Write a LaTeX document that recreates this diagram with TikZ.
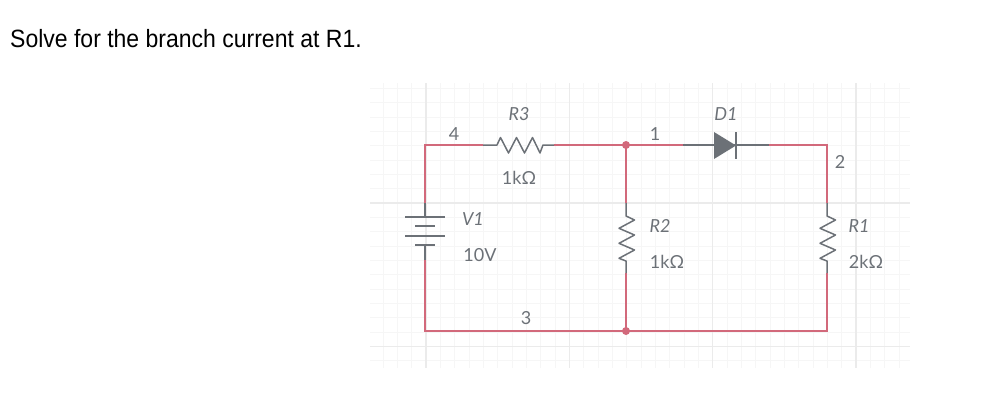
\documentclass[tikz,border=0pt]{standalone}
\usepackage{fontspec}
\setmainfont{Lato}
\newfontfamily\titlefont{Liberation Sans}
\definecolor{wirec}{HTML}{D2697B}
\definecolor{partc}{HTML}{6C7177}
\definecolor{gridmajor}{HTML}{EBEBEB}
\definecolor{gridminor}{HTML}{F6F6F6}
\tikzset{
  wire/.style={draw=wirec,line width=1.5pt},
  part/.style={draw=partc,line width=1.5pt},
  lbl/.style={text=partc,font=\fontsize{18}{18}\selectfont,inner sep=0pt,anchor=center},
  ilbl/.style={lbl,font=\fontsize{18}{18}\selectfont\itshape},
  dot/.style={circle,fill=wirec,inner sep=0pt,minimum size=8pt}
}
\begin{document}
\begin{tikzpicture}[x=1pt,y=-1pt]
\useasboundingbox (0,0) rectangle (998,416);
% grid
\foreach \k in {-3,...,33}{
  \pgfmathsetmacro{\gx}{426+14.33*\k}
  \draw[gridminor,line width=0.8pt] (\gx,83) -- (\gx,368);
}
\foreach \k in {-8,...,11}{
  \pgfmathsetmacro{\gy}{203+14.33*\k}
  \draw[gridminor,line width=0.8pt] (370,\gy) -- (910,\gy);
}
\foreach \gx in {426,569.3,712.6,856}{
  \draw[gridmajor,line width=1.2pt] (\gx,83) -- (\gx,368);
}
\foreach \gy in {203,346.3}{
  \draw[gridmajor,line width=1.2pt] (370,\gy) -- (910,\gy);
}
% named points
\coordinate (tl) at (425,145);
\coordinate (tr) at (827,145);
\coordinate (bl) at (425,331);
\coordinate (br) at (827,331);
\node[dot] (jt) at (626,145) {};
\node[dot] (jb) at (626,331) {};
\coordinate (r3a) at (483,145);
\coordinate (r3b) at (554,145);
\coordinate (d1a) at (683,145);
\coordinate (d1b) at (769,145);
\coordinate (v1a) at (425,203);
\coordinate (v1b) at (425,260);
\coordinate (r2a) at (626,203);
\coordinate (r2b) at (626,273);
\coordinate (r1a) at (827,203);
\coordinate (r1b) at (827,273);
% wires
\draw[wire,line join=miter] (v1a) -- (tl) -- (r3a);
\draw[wire] (r3b) -- (jt.center) -- (d1a);
\draw[wire,line join=miter] (d1b) -- (tr) -- (r1a);
\draw[wire] (jt.center) -- (r2a);
\draw[wire] (r2b) -- (jb.center);
\draw[wire,line join=miter] (v1b) -- (bl) -- (br) -- (r1b);
% R3
\draw[part,line join=round] (r3a) -- (497,145) -- (500.5,137.5) -- (508.5,153) -- (516.5,137.5) -- (524.5,153) -- (532.5,137.5) -- (540,153) -- (543,145) -- (r3b);
% R2
\draw[part,line join=round] (r2a) -- (626,216) -- (634.5,220) -- (619,228.3) -- (634.5,235) -- (619,243.3) -- (634.5,250) -- (619,258.3) -- (626,261) -- (r2b);
% R1
\draw[part,line join=round] (r1a) -- (827,216) -- (835.5,220) -- (820,228.3) -- (835.5,235) -- (820,243.3) -- (835.5,250) -- (820,258.3) -- (827,261) -- (r1b);
% D1
\draw[part] (d1a) -- (d1b);
\fill[partc] (714,132) -- (736,145.5) -- (714,159) -- cycle;
\draw[part] (736,132) -- (736,159);
% V1
\draw[part] (v1a) -- (425,217);
\draw[part] (405,217) -- (445,217);
\draw[part] (415,226) -- (435,226);
\draw[part] (405,236) -- (445,236);
\draw[part] (415,245) -- (435,245);
\draw[part] (425,245) -- (v1b);
% labels
\node[ilbl] (lr3) at (519,114) {R3};
\node[lbl] (n4) at (454,134) {4};
\node[lbl] (vr3) at (519,178) {1k\symbol{"03A9}};
\node[ilbl] (lv1) at (473,219) {V1};
\node[lbl] (vv1) at (480,255) {10V};
\node[lbl] (n3) at (526,318) {3};
\node[lbl] (n1) at (655,134) {1};
\node[ilbl] (ld1) at (726,114) {D1};
\node[lbl] (n2) at (840,162) {2};
\node[ilbl] (lr2) at (660,226) {R2};
\node[lbl] (vr2) at (667,262) {1k\symbol{"03A9}};
\node[ilbl] (lr1) at (859,226) {R1};
\node[lbl] (vr1) at (866,262) {2k\symbol{"03A9}};
% title
\node[anchor=west,inner sep=0pt,text=black,font=\titlefont\fontsize{25}{25}\selectfont,xscale=0.92] (title) at (10,39) {Solve for the branch current at R1.};
\end{tikzpicture}
\end{document}
